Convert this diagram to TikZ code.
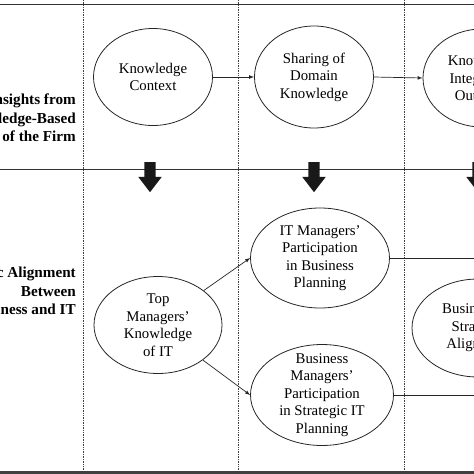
\documentclass[tikz,border=0pt]{standalone}
\usepackage{fontspec}
\setmainfont{Liberation Serif}
\usetikzlibrary{arrows,shapes.geometric,shapes.arrows}

\begin{document}
\begin{tikzpicture}[x=1pt,y=-1pt]
	\tikzstyle{every node}+=[inner sep=0pt]
	\tikzstyle{stage}=[ellipse, draw=black!85, line width=0.8pt, align=center, inner ysep=-12pt, font=\fontsize{14.8}{17.5}\selectfont]
	\tikzstyle{rowhead}=[anchor=east, align=right, font=\bfseries\fontsize{15.2}{18.3}\selectfont]
	\tikzstyle{blockarrow}=[single arrow, fill=black!90, shape border rotate=270, minimum height=30pt, single arrow head extend=6pt, single arrow tip angle=75, inner sep=5.5pt, anchor=tail]
	\tikzstyle{link}=[black!85, line width=0.7pt, -latex]
	\tikzstyle{divider}=[black!75, line width=0.7pt, densely dotted]
	\useasboundingbox (0,0) rectangle (474,474);
	\clip (0,0) rectangle (474,474);
	% frame of the table
	\draw [black!80, line width=0.8pt] (0,4) -- (474,4);
	\draw [black!80, line width=0.8pt] (0,169) -- (474,169);
	\draw [black!75, line width=3pt] (0,472.5) -- (474,472.5);
	\foreach \x in {83,238,404}
		\draw [divider] (\x,0) -- (\x,474);
	% row headings
	\node [rowhead] (kbv) at (76,118) {Insights from\\Knowledge-Based\\View of the Firm};
	\node [rowhead] (align) at (76,291) {Strategic Alignment\\Between\\Business and IT};
	% upper row
	\node [stage, minimum width=119pt, minimum height=97pt] (context) at (153,77) {Knowledge\\Context};
	\node [stage, minimum width=119pt, minimum height=102pt] (sharing) at (314,77) {Sharing of\\Domain\\Knowledge};
	\node [stage, minimum width=118pt, minimum height=98pt] (integration) at (482,78) {Knowledge\\Integration\\Outcome};
	\draw [link] (context.east) -- (sharing.west);
	\draw [link] (sharing.east) -- (integration.west);
	% block arrows between the rows
	\foreach \x [count=\i] in {150,314,478}
		\node [blockarrow] (down\i) at (\x,162) {};
	% lower row
	\node [stage, minimum width=128pt, minimum height=97pt] (topknow) at (158,325) {Top\\Managers'\\Knowledge\\of IT};
	\node [stage, minimum width=139pt, minimum height=100pt] (itpart) at (320,258) {IT Managers'\\Participation\\in Business\\Planning};
	\node [stage, minimum width=143pt, minimum height=101pt] (bizpart) at (322,395) {Business\\Managers'\\Participation\\in Strategic IT\\Planning};
	\node [stage, minimum width=132pt, minimum height=98pt] (alignment) at (478,328) {Business-IT\\Strategic\\Alignment};
	\coordinate (itout) at (474,258);
	\coordinate (bizout) at (474,395);
	\draw [link] (topknow.37) -- (itpart.west);
	\draw [link] (topknow.-38) -- (bizpart.west);
	\draw [black!85, line width=0.7pt] (itpart.east) -- (itout);
	\draw [black!85, line width=0.7pt] (bizpart.east) -- (bizout);
\end{tikzpicture}
\end{document}
